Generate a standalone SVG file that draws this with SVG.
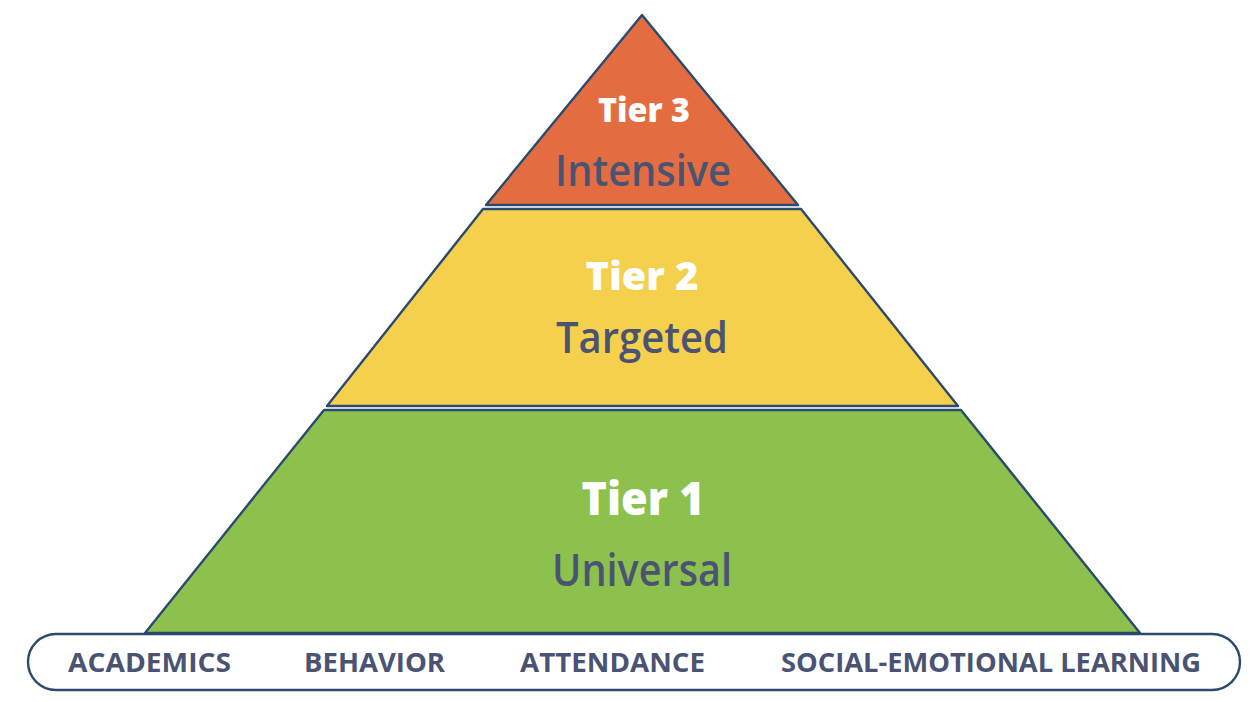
<svg xmlns="http://www.w3.org/2000/svg" width="1260" height="702" viewBox="0 0 1260 702">
<style>
.tier{stroke:#2b4a6f;stroke-width:2.4;stroke-linejoin:round}
.t{font-family:"Open Sans","Liberation Sans",sans-serif;font-weight:800;fill:#ffffff;text-anchor:middle}
.s{font-family:"Open Sans","Liberation Sans",sans-serif;font-weight:600;fill:#4a5472;text-anchor:middle}
.b{font-family:"Open Sans","Liberation Sans",sans-serif;font-weight:700;fill:#4a5472;font-size:27px}
</style>
<rect width="1260" height="702" fill="#ffffff"/>
<g id="tier3">
<polygon class="tier" points="642,15 798,205 486,205" fill="#e36d41"/>
<text class="t" x="644" y="122" font-size="34" textLength="92" lengthAdjust="spacingAndGlyphs">Tier 3</text>
<text class="s" x="643" y="186" font-size="43" textLength="176" lengthAdjust="spacingAndGlyphs">Intensive</text>
</g>
<g id="tier2">
<polygon class="tier" points="483,209 801,209 958,406 327,406" fill="#f5d04d"/>
<text class="t" x="642" y="290" font-size="39" textLength="113" lengthAdjust="spacingAndGlyphs">Tier 2</text>
<text class="s" x="642" y="353" font-size="43" textLength="172" lengthAdjust="spacingAndGlyphs">Targeted</text>
</g>
<g id="tier1">
<polygon class="tier" points="324,410 961,410 1140,633 145,633" fill="#8cc14e"/>
<text class="t" x="643" y="515" font-size="46" textLength="123" lengthAdjust="spacingAndGlyphs">Tier 1</text>
<text class="s" x="642" y="586" font-size="45" textLength="180" lengthAdjust="spacingAndGlyphs">Universal</text>
</g>
<g id="domains">
<rect x="28" y="634" width="1212" height="56" rx="28" ry="28" fill="#ffffff" stroke="#2b4a6f" stroke-width="2.4"/>
<text class="b" x="68" y="672" textLength="163" lengthAdjust="spacingAndGlyphs">ACADEMICS</text>
<text class="b" x="304" y="672" textLength="141" lengthAdjust="spacingAndGlyphs">BEHAVIOR</text>
<text class="b" x="520" y="672" textLength="185" lengthAdjust="spacingAndGlyphs">ATTENDANCE</text>
<text class="b" x="781" y="672" textLength="420" lengthAdjust="spacingAndGlyphs">SOCIAL-EMOTIONAL LEARNING</text>
</g>
</svg>
